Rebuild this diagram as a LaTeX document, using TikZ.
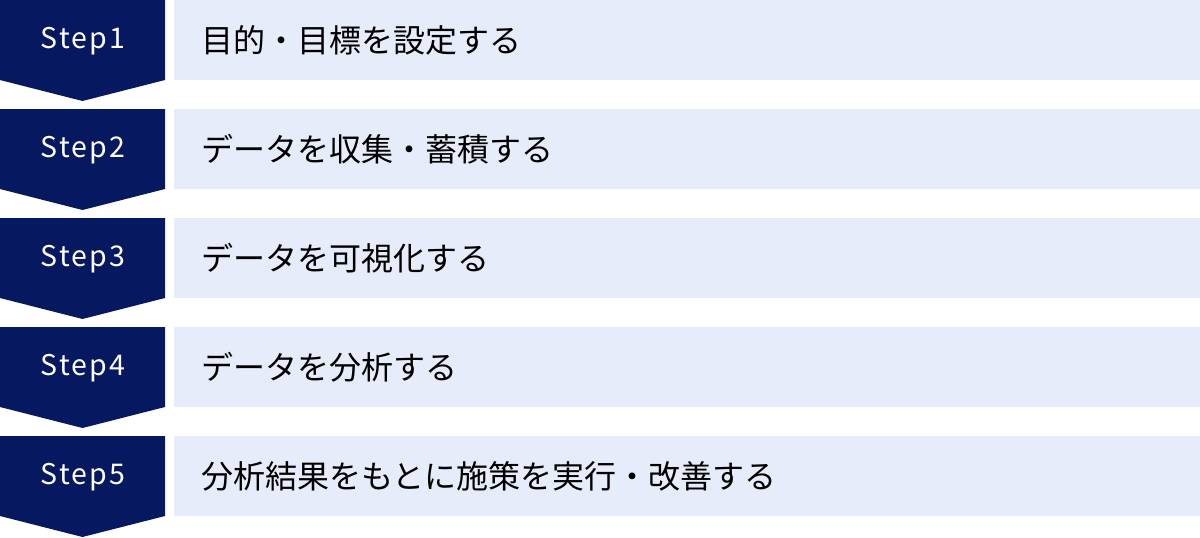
\documentclass[tikz,border=0pt]{standalone}
\usepackage{fontspec}
\setmainfont{Noto Sans CJK JP}
\newfontfamily\stepfont[LetterSpace=8]{Noto Sans CJK JP}
\definecolor{stepnavy}{RGB}{5,24,96}
\definecolor{steplight}{RGB}{230,236,249}
\tikzset{
  steplabel/.style={text=white,font=\stepfont\fontsize{28.5}{28.5}\selectfont},
  steptext/.style={anchor=west,text=black,font=\fontsize{32}{32}\selectfont,inner sep=0pt}
}
\begin{document}
\begin{tikzpicture}[x=1pt,y=-1pt]
                \useasboundingbox (0,0) rectangle (1200,538);

                \fill[stepnavy] (0,0) -- (165,0) -- (165,80) -- (82.5,101) -- (0,80) -- cycle;
                \fill[steplight] (174,0) rectangle (1200,80);
                \node[steplabel] (s1) at (83,41) {Step1};
                \node[steptext] (t1) at (201,40) {目的・目標を設定する};

                \fill[stepnavy] (0,109) -- (165,109) -- (165,189) -- (82.5,210) -- (0,189) -- cycle;
                \fill[steplight] (174,109) rectangle (1200,189);
                \node[steplabel] (s2) at (83,150) {Step2};
                \node[steptext] (t2) at (201,149) {データを収集・蓄積する};

                \fill[stepnavy] (0,218) -- (165,218) -- (165,298) -- (82.5,319) -- (0,298) -- cycle;
                \fill[steplight] (174,218) rectangle (1200,298);
                \node[steplabel] (s3) at (83,259) {Step3};
                \node[steptext] (t3) at (201,258) {データを可視化する};

                \fill[stepnavy] (0,327) -- (165,327) -- (165,407) -- (82.5,428) -- (0,407) -- cycle;
                \fill[steplight] (174,327) rectangle (1200,407);
                \node[steplabel] (s4) at (83,368) {Step4};
                \node[steptext] (t4) at (201,367) {データを分析する};

                \fill[stepnavy] (0,436) -- (165,436) -- (165,516) -- (82.5,537) -- (0,516) -- cycle;
                \fill[steplight] (174,436) rectangle (1200,516);
                \node[steplabel] (s5) at (83,477) {Step5};
                \node[steptext] (t5) at (201,476) {分析結果をもとに施策を実行・改善する};
\end{tikzpicture}
\end{document}
